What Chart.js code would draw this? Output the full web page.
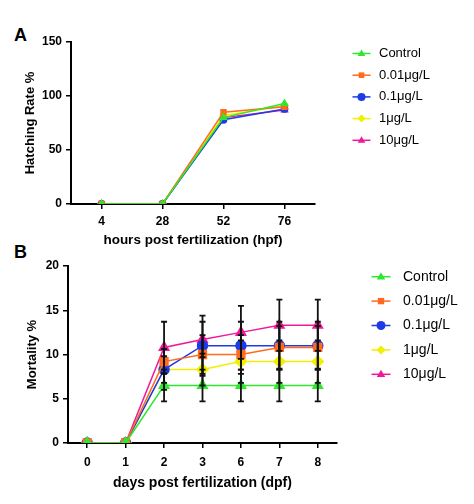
<!DOCTYPE html>
<html>
<head>
<meta charset="utf-8">
<script src="https://cdn.jsdelivr.net/npm/chart.js"></script>
<style>
  body { margin: 0; background: #fff; }
  #wrap { position: relative; width: 474px; height: 504px; overflow: hidden; }
  canvas { position: absolute; left: 0; }
  .tag { position: absolute; left: 14px; font: bold 18px "Liberation Sans", Arial, sans-serif; color: #000; }
</style>
</head>
<body>
<div id="wrap">
  <div class="tag" style="top:25px">A</div>
  <div class="tag" style="top:242px">B</div>
  <canvas id="chartA" width="474" height="250" style="top:0"></canvas>
  <canvas id="chartB" width="474" height="254" style="top:250px"></canvas>
</div>
<script>
const seriesNames = ['Control', '0.01\u03bcg/L', '0.1\u03bcg/L', '1\u03bcg/L', '10\u03bcg/L'];
const seriesColors = ['#2ee82e', '#ff6a1c', '#1e3ce6', '#f0f000', '#f0189a'];
const seriesMarkers = ['triangle', 'rect', 'circle', 'rectRot', 'triangle'];

// panel A: hatching rate
const hpfLabels = ['4', '28', '52', '76'];
const hatchControl = [0, 0, 80, 93];
const hatch001 = [0, 0, 85, 90];
const hatch01 = [0, 0, 78, 88];
const hatch1 = [0, 0, 82, 91];
const hatch10 = [0, 0, 80, 87];

// panel B: mortality
const dpfLabels = ['0', '1', '2', '3', '6', '7', '8'];
const mortControl = [0, 0, 6.5, 6.5, 6.5, 6.5, 6.5];
const mort001 = [0, 0, 9.2, 10, 10, 10.8, 10.8];
const mort01 = [0, 0, 8.3, 11, 11, 11, 11];
const mort1 = [0, 0, 8.3, 8.3, 9.2, 9.2, 9.2];
const mort10 = [0, 0, 10.8, 11.7, 12.5, 13.3, 13.3];
const errControl = [0, 0, 1.8, 1.8, 1.8, 1.8, 1.8];
const err001 = [0, 0, 1.4, 2.2, 2.2, 2.4, 2.4];
const err01 = [0, 0, 2.3, 3.4, 2.7, 2.7, 2.7];
const err1 = [0, 0, 1.5, 1.8, 2.4, 2.4, 2.4];
const err10 = [0, 0, 2.9, 2.0, 3.0, 2.9, 2.9];

const FONT = '"Liberation Sans", Arial, sans-serif';

function drawMarker(ctx, style, x, y, r) {
  ctx.beginPath();
  if (style === 'circle') {
    ctx.arc(x, y, r, 0, Math.PI * 2);
  } else if (style === 'rect') {
    const s = r * Math.SQRT1_2;
    ctx.rect(x - s, y - s, 2 * s, 2 * s);
  } else if (style === 'rectRot') {
    ctx.moveTo(x, y - r); ctx.lineTo(x + r, y); ctx.lineTo(x, y + r); ctx.lineTo(x - r, y);
    ctx.closePath();
  } else {
    ctx.moveTo(x, y - r); ctx.lineTo(x + r * 0.95, y + r * 0.6); ctx.lineTo(x - r * 0.95, y + r * 0.6);
    ctx.closePath();
  }
  ctx.fill();
}

// legend drawn at fixed spot to the right of the plot
const sideLegend = {
  id: 'sideLegend',
  afterDraw(chart, args, opts) {
    const ctx = chart.ctx;
    ctx.save();
    ctx.font = opts.size + 'px ' + FONT;
    ctx.textBaseline = 'middle';
    chart.data.datasets.forEach((ds, i) => {
      const y = opts.y + i * opts.step;
      ctx.strokeStyle = ds.borderColor;
      ctx.lineWidth = 1.5;
      ctx.beginPath();
      ctx.moveTo(opts.x - opts.half, y);
      ctx.lineTo(opts.x + opts.half, y);
      ctx.stroke();
      ctx.fillStyle = ds.pointBackgroundColor;
      drawMarker(ctx, ds.pointStyle, opts.x, y, opts.r);
      ctx.fillStyle = '#000';
      ctx.fillText(ds.label, opts.textX, y);
    });
    ctx.restore();
  }
};

const errorBars = {
  id: 'errorBars',
  afterDatasetsDraw(chart) {
    const ctx = chart.ctx;
    const xs = chart.scales.x, ys = chart.scales.y;
    ctx.save();
    ctx.strokeStyle = '#111';
    ctx.lineWidth = 1.8;
    chart.data.datasets.forEach(ds => {
      if (!ds.errorBars) return;
      ds.data.forEach((v, i) => {
        const e = ds.errorBars[i];
        if (!e) return;
        const x = xs.getPixelForValue(i);
        const y1 = ys.getPixelForValue(v + e), y2 = ys.getPixelForValue(v - e);
        ctx.beginPath();
        ctx.moveTo(x, y1); ctx.lineTo(x, y2);
        ctx.moveTo(x - 3, y1); ctx.lineTo(x + 3, y1);
        ctx.moveTo(x - 3, y2); ctx.lineTo(x + 3, y2);
        ctx.stroke();
      });
    });
    ctx.restore();
  }
};

function makeSets(values, r, errs) {
  return values.map((vals, i) => ({
    label: seriesNames[i],
    data: vals,
    borderColor: seriesColors[i],
    backgroundColor: seriesColors[i],
    pointBackgroundColor: seriesColors[i],
    pointBorderColor: seriesColors[i],
    pointStyle: seriesMarkers[i],
    pointRadius: seriesMarkers[i] === 'circle' ? r * 0.9 : r,
    borderWidth: 1.5,
    tension: 0,
    errorBars: errs ? errs[i] : null
  }));
}

function axes(o) {
  const tickFont = { family: FONT, size: 12, weight: 'bold' };
  return {
    x: {
      type: 'category',
      offset: true,
      grid: { display: true, drawOnChartArea: false, drawTicks: true, tickLength: 5, offset: false, color: '#000', lineWidth: 1.5 },
      border: { color: '#000', width: 2 },
      ticks: { color: '#000', font: tickFont, padding: o.xPad },
      title: { display: true, text: o.xTitle, color: '#000', font: { family: FONT, size: o.xTitleSize, weight: 'bold' }, padding: { top: 0, bottom: o.xTitlePad } },
      afterFit(s) { s.height = o.xHeight; }
    },
    y: {
      min: 0, max: o.yMax,
      grid: { display: true, drawOnChartArea: false, drawTicks: true, tickLength: 5, color: '#000', lineWidth: 1.5 },
      border: { color: '#000', width: 2 },
      ticks: { stepSize: o.yStep, color: '#000', font: tickFont, padding: 4 },
      title: { display: true, text: o.yTitle, color: '#000', font: { family: FONT, size: 13, weight: 'bold' }, padding: { top: o.yTitlePad, bottom: 0 } },
      afterFit(s) { s.width = o.yWidth; }
    }
  };
}

new Chart(document.getElementById('chartA'), {
  type: 'line',
  data: {
    labels: hpfLabels,
    datasets: makeSets([hatchControl, hatch001, hatch01, hatch1, hatch10], 3.5)
  },
  options: {
    responsive: false,
    animation: false,
    layout: { padding: { top: 42, right: 159, left: 0, bottom: 0 } },
    scales: axes({ xTitle: 'hours post fertilization (hpf)', xTitleSize: 13.5, xTitlePad: 2, xPad: 5, xHeight: 46,
                   yTitle: 'Hatching Rate %', yTitlePad: 23, yWidth: 71, yMax: 150, yStep: 50 }),
    plugins: {
      legend: { display: false },
      tooltip: { enabled: false },
      sideLegend: { x: 361.5, half: 9, r: 4, textX: 379, y: 53.5, step: 21.7, size: 13 }
    }
  },
  plugins: [sideLegend]
});

new Chart(document.getElementById('chartB'), {
  type: 'line',
  data: {
    labels: dpfLabels,
    datasets: makeSets([mortControl, mort001, mort01, mort1, mort10], 5.5,
                       [errControl, err001, err01, err1, err10])
  },
  options: {
    responsive: false,
    animation: false,
    layout: { padding: { top: 16, right: 137, left: 0, bottom: 0 } },
    scales: axes({ xTitle: 'days post fertilization (dpf)', xTitleSize: 14, xTitlePad: 12.6, xPad: 7, xHeight: 61,
                   yTitle: 'Mortality %', yTitlePad: 24.5, yWidth: 68, yMax: 20, yStep: 5 }),
    plugins: {
      legend: { display: false },
      tooltip: { enabled: false },
      sideLegend: { x: 381, half: 9.5, r: 4.5, textX: 403, y: 26.7, step: 24.4, size: 14 }
    }
  },
  plugins: [sideLegend, errorBars]
});
</script>
</body>
</html>
